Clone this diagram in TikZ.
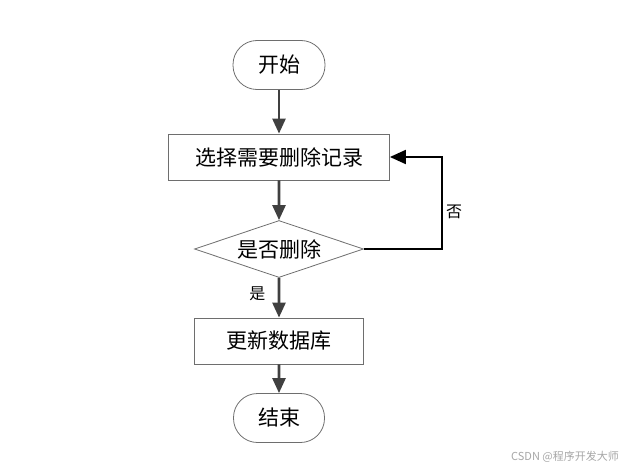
\documentclass[tikz,border=0pt]{standalone}
\usepackage{fontspec}
\setmainfont{Noto Sans CJK SC}
\usetikzlibrary{shapes.geometric,arrows.meta}
\definecolor{linegray}{HTML}{404040}
\definecolor{boxgray}{HTML}{6E6E6E}
\begin{document}
\begin{tikzpicture}[x=1pt,y=1pt,
                level distance=92pt,
                level 4/.style={level distance=77pt},
                terminal/.style={draw=boxgray, line width=0.8pt, rectangle, rounded corners=24pt,
                    minimum width=92pt, minimum height=49pt, font=\fontsize{21pt}{24pt}\selectfont},
                process/.style={draw=boxgray, line width=0.8pt, rectangle,
                    minimum height=46pt, font=\fontsize{21pt}{24pt}\selectfont},
                decision/.style={draw=boxgray, line width=0.8pt, diamond, aspect=3, inner sep=0pt,
                    minimum width=169pt, minimum height=57pt, font=\fontsize{21pt}{24pt}\selectfont},
                edge from parent/.style={draw=linegray, line width=2.6pt,
                    -{Triangle[length=15pt,width=13pt]}},
                loopback/.style={draw=black, line width=2pt,
                    -{Triangle[length=16pt,width=14pt]}},
                note/.style={font=\fontsize{16pt}{18pt}\selectfont}
            ]
            \useasboundingbox (0,0) rectangle (628,-468);
            \node[terminal] (start) at (279,-65) {开始}
            child { node[process, minimum width=221pt] (select) {选择需要删除记录}
                child { node[decision] (ask) {是否删除}
                    child { node[process, minimum width=169pt] (update) {更新数据库}
                        child { node[terminal, minimum width=91pt] (stop) {结束} }
                        edge from parent node[note, pos=0.4, left=9pt] {是} }
                } };
            % back to the selection step
            \draw[loopback] (ask.east) -- ++(78,0) |- node[note, pos=0.2, right] {否} (select.east);
            \node[text=black!35, font=\fontsize{11pt}{13pt}\selectfont] (mark) at (565,-457) {CSDN @程序开发大师};
        \end{tikzpicture}
\end{document}
